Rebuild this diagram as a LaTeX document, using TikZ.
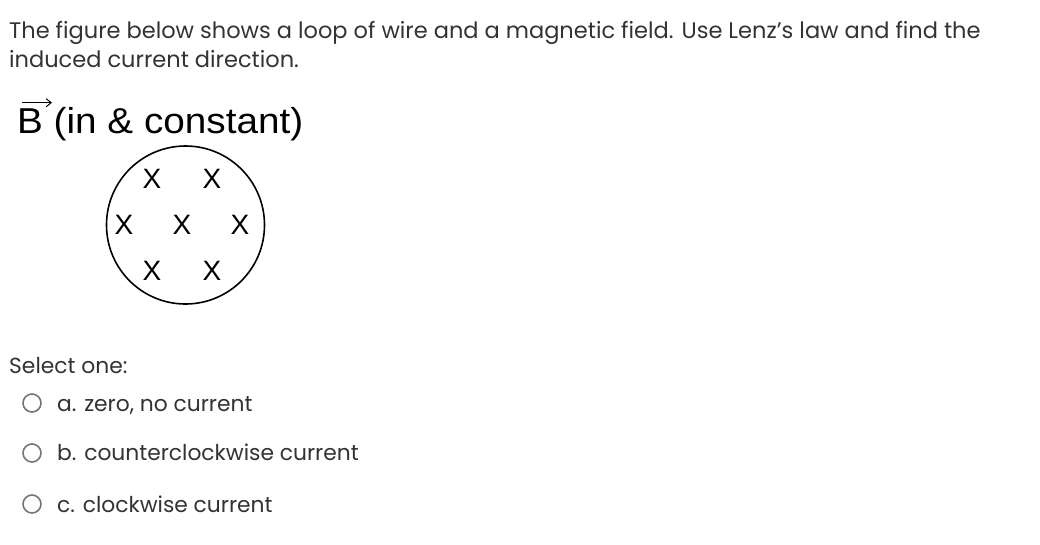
\documentclass[tikz,border=0pt]{standalone}
\usepackage{fontspec}
\usetikzlibrary{arrows.meta}
\setmainfont{Poppins}
\newfontfamily\arialfont{Liberation Sans}
\definecolor{txtgray}{HTML}{333333}
\definecolor{radiogray}{HTML}{767676}

\begin{document}
\begin{tikzpicture}[x=1pt,y=-1pt,
   qtext/.style={anchor=base west,inner sep=0pt,text=txtgray,font=\fontsize{22.5}{26}\selectfont},
   opttext/.style={qtext,font=\fontsize{21.8}{26}\selectfont},
   fieldx/.style={inner sep=0pt,font=\arialfont\fontsize{28}{28}\selectfont},
   radio/.style={circle,draw=radiogray,line width=1.6pt,minimum size=18pt,inner sep=0pt}]
   \useasboundingbox[fill=white] (0,0) rectangle (1040,544);
   \node (line1) at (9,38) [qtext] {The figure below shows a loop of wire and a magnetic field. Use Lenz’s law and find the};
   \node (line2) at (9,67) [qtext] {induced current direction.};
   \node (blabel) at (17,133) [anchor=base west,inner sep=0pt,font=\arialfont\fontsize{36}{36}\selectfont] {\scalebox{1.075}[1]{B (in \& constant)}};
   \draw[-{Straight Barb[length=5pt,width=8pt]},line width=1pt] ([xshift=5pt,yshift=4pt]blabel.north west) -- ([xshift=35pt,yshift=4pt]blabel.north west);
   \node (loop) at (185.5,225) [circle,draw,line width=1.6pt,minimum size=158pt] {};
   \node (x1) at (152,179) [fieldx] {X};
   \node (x2) at (212,179) [fieldx] {X};
   \node (x3) at (124,225) [fieldx] {X};
   \node (x4) at (182,225) [fieldx] {X};
   \node (x5) at (240,225) [fieldx] {X};
   \node (x6) at (152,271) [fieldx] {X};
   \node (x7) at (212,271) [fieldx] {X};
   \node (select) at (9,373) [opttext] {Select one:};
   \node (radioa) at (32,403) [radio] {};
   \node (radiob) at (32,453) [radio] {};
   \node (radioc) at (32,504) [radio] {};
   \node (opta) at (57,411) [opttext] {a. zero, no current};
   \node (optb) at (57,460) [opttext] {b. counterclockwise current};
   \node (optc) at (57,512) [opttext] {c. clockwise current};
\end{tikzpicture}
\end{document}
